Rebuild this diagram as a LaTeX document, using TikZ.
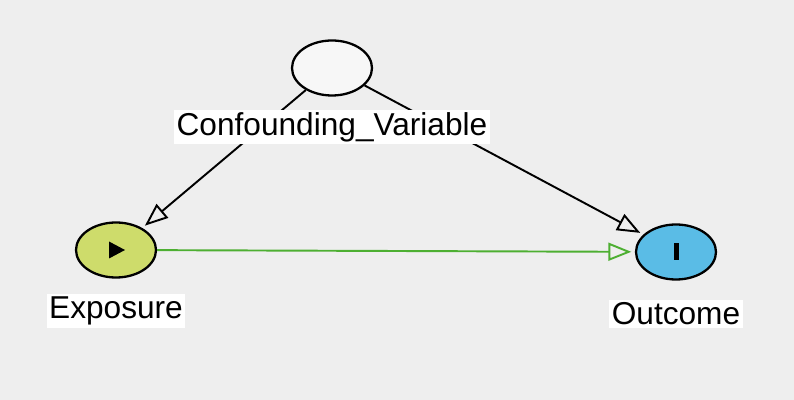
\documentclass[tikz,border=0pt]{standalone}
\usepackage{fontspec}
\setmainfont{Liberation Sans}
\usetikzlibrary{arrows.meta,positioning,shapes.geometric}
\definecolor{bgray}{HTML}{EEEEEE}
\definecolor{expcol}{HTML}{CEDC6B}
\definecolor{outcol}{HTML}{5ABCE6}
\definecolor{edgegreen}{HTML}{4DAF32}
\tikzset{
    var/.style = {draw, line width = 1.3pt, ellipse, minimum width = 1.6cm, minimum height = 1.1cm, inner sep = 0pt},
    varlabel/.style = {fill = white, inner sep = 1.5pt, font = \fontsize{18}{20}\selectfont},
    dagedge/.style = {line width = 1.1pt, -{Triangle[open, length = 0.46cm, width = 0.36cm]}, shorten > = 2pt}
}
\begin{document}
\begin{tikzpicture}
        \fill [bgray] (0, 0) rectangle (15.88, 8);
        \useasboundingbox (0, 0) rectangle (15.88, 8);
        \node [var, fill = white!97!black] (conf) at (6.64, 6.64) {};
        \node [var, fill = expcol] (exp) at (2.32, 3.0) {};
        \node [var, fill = outcol] (out) at (13.52, 2.96) {};
        \fill (exp.center) ++(-0.14, 0.17) -- ++(0.32, -0.17) -- ++(-0.32, -0.17) -- cycle;
        \fill (out.center) ++(-0.05, -0.17) rectangle ++(0.1, 0.34);
        \draw [dagedge] (conf) -- (exp);
        \draw [dagedge] (conf) -- (out);
        \draw [dagedge, edgegreen] (exp) -- (out);
        \node [varlabel] (conflabel) at (6.64, 5.46) {Confounding\_Variable};
        \node [varlabel] (explabel) at (2.32, 1.78) {Exposure};
        \node [varlabel] (outlabel) at (13.52, 1.72) {Outcome};
    \end{tikzpicture}
\end{document}
